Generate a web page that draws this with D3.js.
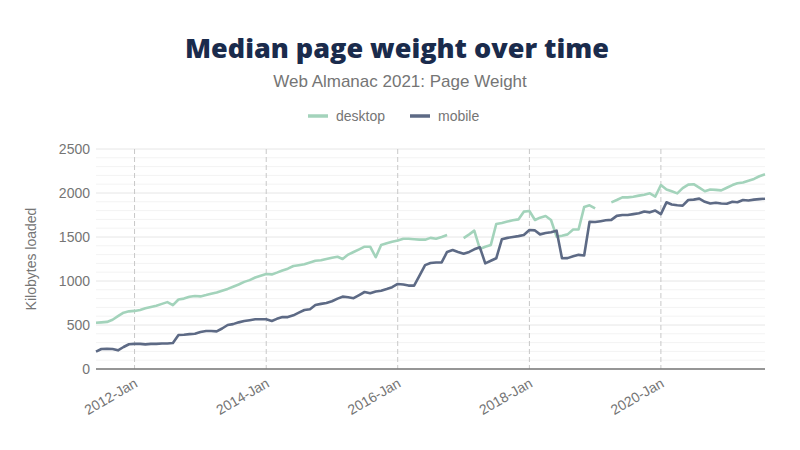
<!DOCTYPE html>
<html><head><meta charset="utf-8">
<script src="https://cdn.jsdelivr.net/npm/d3@7"></script>
<style>body{margin:0;background:#fff}</style>
</head><body><svg id="c" width="800" height="450"></svg>
<script>
const startMonth = "2011-06";
const desktop = [526,530,535,560,600,640,655,660,670,690,705,720,740,760,725,790,800,820,830,825,840,855,870,890,910,935,960,990,1010,1040,1060,1080,1075,1095,1120,1140,1170,1180,1190,1210,1230,1235,1250,1265,1276,1250,1300,1330,1360,1390,1390,1270,1410,1430,1447,1460,1480,1480,1475,1470,1470,1490,1480,1500,1522,null,null,1488,1530,1572,1364,1390,1410,1648,1660,1675,1690,1700,1788,1795,1693,1720,1738,1693,1504,1515,1530,1585,1585,1840,1860,1825,null,null,1894,1920,1950,1950,1958,1970,1980,1996,1960,2090,2040,2020,1996,2055,2095,2100,2060,2020,2040,2035,2030,2060,2090,2110,2120,2140,2160,2190,2212];
const mobile = [197,227,230,228,212,250,281,285,285,280,285,285,290,290,295,386,390,396,400,420,431,431,428,460,500,510,530,545,555,565,565,565,545,570,590,590,610,640,670,680,727,740,750,770,800,822,815,805,840,875,860,880,890,909,930,966,960,948,948,1060,1180,1204,1210,1212,1330,1352,1330,1309,1330,1360,1383,1201,1230,1258,1474,1490,1500,1510,1522,1580,1575,1530,1545,1555,1572,1258,1260,1280,1297,1290,1674,1670,1680,1690,1695,1740,1750,1750,1760,1770,1790,1780,1800,1760,1894,1870,1860,1856,1920,1925,1936,1900,1880,1890,1880,1878,1900,1895,1920,1915,1925,1930,1935,1943];
const yTicks = [0,500,1000,1500,2000,2500];
const xTickLabels = ["2012-Jan","2014-Jan","2016-Jan","2018-Jan","2020-Jan"];
const seriesNames = ["desktop","mobile"];
const colors = {desktop:"#a3d3bb", mobile:"#5d6a85"};
const F = "'Liberation Sans', Arial, sans-serif";

const parse = d3.timeParse("%Y-%m");
const t0 = parse(startMonth);
const dates = desktop.map((_, i) => d3.timeMonth.offset(t0, i));
const svg = d3.select("#c");
const x = d3.scaleTime().domain([dates[0], dates[dates.length-1]]).range([96, 765]);
const y = d3.scaleLinear().domain([0, 2500]).range([369, 149]);

svg.append("g").selectAll("line").data(d3.range(0, 2501, 100)).join("line")
  .attr("x1", 96).attr("x2", 765).attr("y1", d => y(d)).attr("y2", d => y(d))
  .attr("stroke", d => d % 500 === 0 ? "#e6e6e6" : "#f3f3f3").attr("stroke-width", 1);
const xt = xTickLabels.map(s => d3.timeParse("%Y-%b")(s));
svg.append("g").selectAll("line").data(xt).join("line")
  .attr("x1", d => x(d)).attr("x2", d => x(d)).attr("y1", 149).attr("y2", 369)
  .attr("stroke", "#c8c8c8").attr("stroke-dasharray", "5,3");
svg.append("line").attr("x1", 96).attr("x2", 765).attr("y1", 369).attr("y2", 369).attr("stroke", "#777").attr("stroke-width", 1.5);

svg.append("g").selectAll("text").data(yTicks).join("text")
  .attr("x", 90).attr("y", d => y(d) + 5).attr("text-anchor", "end")
  .attr("font-family", F).attr("font-size", 14).attr("fill", "#757575").text(d => d);
svg.append("g").selectAll("text").data(xt).join("text")
  .attr("transform", (d) => `translate(${x(d)+4},${386}) rotate(-30)`).attr("text-anchor", "end")
  .attr("font-family", F).attr("font-size", 14).attr("fill", "#757575")
  .text((d, i) => xTickLabels[i]);
svg.append("text").attr("transform", "translate(36,259) rotate(-90)").attr("text-anchor", "middle")
  .attr("font-family", F).attr("font-size", 14).attr("fill", "#757575").text("Kilobytes loaded");

const line = d3.line().defined(d => d[1] != null).x(d => x(d[0])).y(d => y(d[1]));
[["desktop", desktop], ["mobile", mobile]].forEach(([n, v]) => {
  svg.append("path").datum(v.map((val, i) => [dates[i], val])).attr("d", line)
    .attr("fill", "none").attr("stroke", colors[n]).attr("stroke-width", 2.6).attr("stroke-linejoin", "round");
});

svg.append("text").attr("x", 397).attr("y", 58).attr("text-anchor", "middle")
  .attr("font-family", "'Open Sans', sans-serif").attr("font-weight", 800).attr("font-size", 27)
  .attr("fill", "#1a2b4c").text("Median page weight over time");
svg.append("text").attr("x", 400).attr("y", 87).attr("text-anchor", "middle")
  .attr("font-family", F).attr("font-size", 17).attr("fill", "#757575").text("Web Almanac 2021: Page Weight");
const lg = svg.append("g").selectAll("g").data(seriesNames).join("g")
  .attr("transform", (d, i) => `translate(${i ? 410 : 308},116)`);
lg.append("line").attr("x1", 0).attr("x2", 20).attr("stroke", d => colors[d]).attr("stroke-width", 3.5);
lg.append("text").attr("x", 28).attr("y", 5).attr("font-family", F).attr("font-size", 14)
  .attr("fill", "#757575").text(d => d);
</script></body></html>
